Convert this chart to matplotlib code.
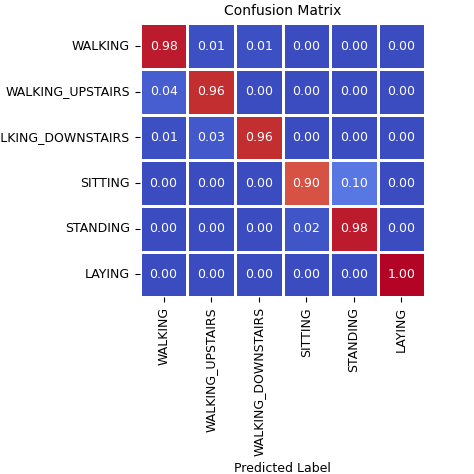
import matplotlib
matplotlib.use("Agg")
import matplotlib.pyplot as plt
import seaborn as sns
import numpy as np

labels = ["WALKING", "WALKING_UPSTAIRS", "WALKING_DOWNSTAIRS", "SITTING", "STANDING", "LAYING"]
row_walking = [0.98, 0.01, 0.01, 0.00, 0.00, 0.00]
row_up = [0.04, 0.96, 0.00, 0.00, 0.00, 0.00]
row_down = [0.01, 0.03, 0.96, 0.00, 0.00, 0.00]
row_sit = [0.00, 0.00, 0.00, 0.90, 0.10, 0.00]
row_stand = [0.00, 0.00, 0.00, 0.02, 0.98, 0.00]
row_lay = [0.00, 0.00, 0.00, 0.00, 0.00, 1.00]
cm = np.array([row_walking, row_up, row_down, row_sit, row_stand, row_lay])

fig = plt.figure(figsize=(4.74, 4.74), dpi=100)
ax = fig.add_axes([0.295, 0.373, 0.602, 0.578])
sns.heatmap(cm, ax=ax, cmap="coolwarm", vmin=0, vmax=1, annot=True, fmt=".2f",
            annot_kws={"color": "white", "fontsize": 9}, linewidths=1, linecolor="white",
            cbar=False, xticklabels=labels, yticklabels=labels, square=False)
ax.set_title("Confusion Matrix", fontsize=10)
ax.set_xlabel("Predicted Label", fontsize=9)
ax.tick_params(labelsize=9)
plt.setp(ax.get_xticklabels(), rotation=90)
plt.setp(ax.get_yticklabels(), rotation=0)
fig.savefig("out.png", dpi=100)
